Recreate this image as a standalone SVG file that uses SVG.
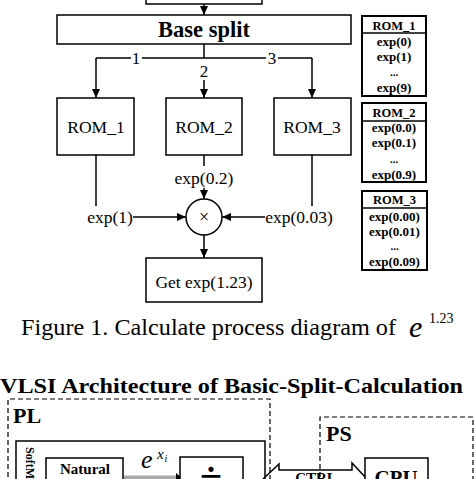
<svg xmlns="http://www.w3.org/2000/svg" width="474" height="479" viewBox="0 0 474 479">
<style>
.box{fill:#fff;stroke:#000;stroke-width:1.5}
.tbl{fill:#fff;stroke:#000;stroke-width:2}
.ln{stroke:#000;stroke-width:1.5;fill:none}
.dash{stroke:#000;stroke-width:1.2;fill:none;stroke-dasharray:5,3}
.t{font-family:"Liberation Serif","Times New Roman",serif;fill:#000}
.b{font-weight:bold}
.m{text-anchor:middle}
</style>
<defs>
<marker id="ah" markerWidth="9" markerHeight="8" refX="9" refY="4" orient="auto" markerUnits="userSpaceOnUse">
<path d="M0,0 L9,4 L0,8 z" fill="#000"/>
</marker>
</defs>
<rect width="474" height="479" fill="#fff"/>

<g id="connectors">
<line class="ln" x1="204" y1="4" x2="204" y2="15" marker-end="url(#ah)"/>
<line class="ln" x1="204" y1="44" x2="204" y2="58"/>
<line class="ln" x1="96" y1="58" x2="131" y2="58"/>
<line class="ln" x1="142" y1="58" x2="266" y2="58"/>
<line class="ln" x1="278" y1="58" x2="312" y2="58"/>
<line class="ln" x1="96" y1="58" x2="96" y2="98" marker-end="url(#ah)"/>
<line class="ln" x1="312" y1="58" x2="312" y2="98" marker-end="url(#ah)"/>
<line class="ln" x1="204" y1="80" x2="204" y2="98" marker-end="url(#ah)"/>
<line class="ln" x1="96" y1="155" x2="96" y2="206"/>
<line class="ln" x1="204" y1="155" x2="204" y2="166"/>
<line class="ln" x1="312" y1="155" x2="312" y2="206"/>
<line class="ln" x1="204" y1="188" x2="204" y2="199" marker-end="url(#ah)"/>
<line class="ln" x1="133" y1="217" x2="186" y2="217" marker-end="url(#ah)"/>
<line class="ln" x1="265" y1="217" x2="222" y2="217" marker-end="url(#ah)"/>
<line class="ln" x1="204" y1="235" x2="204" y2="258" marker-end="url(#ah)"/>
<text class="t m" x="136" y="64" font-size="17">1</text>
<text class="t m" x="204" y="77" font-size="17">2</text>
<text class="t m" x="272" y="64" font-size="17">3</text>
<text class="t m" x="110" y="223" font-size="17.5">exp(1)</text>
<text class="t m" x="204" y="184" font-size="17.5">exp(0.2)</text>
<text class="t m" x="299" y="223" font-size="17.5">exp(0.03)</text>
<rect x="124" y="475.5" width="52" height="5" fill="#aaa"/>
<path d="M176,473 L182,478 L176,483 z" fill="#000"/>
<path class="ln" d="M263,479 L279,464 L279,470 L352,470 L352,463 L366,478"/>
<text class="t b m" x="316" y="483" font-size="15">CTRL</text>
</g>

<g id="input"><rect class="box" x="146" y="-10" width="116" height="14"/></g>
<g id="base-split"><rect class="box" x="57" y="15" width="294" height="29"/>
<text class="t b m" x="204" y="37" font-size="22.5">Base split</text></g>
<g id="rom1"><rect class="box" x="57" y="98" width="77" height="57"/>
<text class="t m" x="96" y="133" font-size="17.5">ROM_1</text></g>
<g id="rom2"><rect class="box" x="166" y="98" width="76" height="57"/>
<text class="t m" x="204" y="133" font-size="17.5">ROM_2</text></g>
<g id="rom3"><rect class="box" x="274" y="98" width="77" height="57"/>
<text class="t m" x="312" y="133" font-size="17.5">ROM_3</text></g>
<g id="multiply"><circle cx="204" cy="217" r="18" fill="#fff" stroke="#000" stroke-width="1.5"/>
<text class="t m" x="204" y="223" font-size="18">×</text></g>
<g id="result"><rect class="box" x="146" y="258" width="116" height="44"/>
<text class="t m" x="204" y="288" font-size="17.5">Get exp(1.23)</text></g>

<g id="table-rom1"><rect class="tbl" x="362" y="16" width="64" height="80"/>
<line class="ln" x1="362" y1="33" x2="426" y2="33"/>
<text class="t b m" x="394" y="30" font-size="12.5">ROM_1</text>
<text class="t b m" x="394" y="46" font-size="13">exp(0)</text>
<text class="t b m" x="394" y="61" font-size="13">exp(1)</text>
<text class="t b m" x="394" y="76" font-size="11">...</text>
<text class="t b m" x="394" y="92" font-size="13">exp(9)</text></g>
<g id="table-rom2"><rect class="tbl" x="362" y="103" width="64" height="79"/>
<line class="ln" x1="362" y1="121" x2="426" y2="121"/>
<text class="t b m" x="394" y="117" font-size="12.5">ROM_2</text>
<text class="t b m" x="394" y="132" font-size="13">exp(0.0)</text>
<text class="t b m" x="394" y="147" font-size="13">exp(0.1)</text>
<text class="t b m" x="394" y="163" font-size="11">...</text>
<text class="t b m" x="394" y="179" font-size="13">exp(0.9)</text></g>
<g id="table-rom3"><rect class="tbl" x="362" y="191" width="65" height="79"/>
<line class="ln" x1="362" y1="208" x2="427" y2="208"/>
<text class="t b m" x="394.5" y="204" font-size="12.5">ROM_3</text>
<text class="t b m" x="394.5" y="221" font-size="13">exp(0.00)</text>
<text class="t b m" x="394.5" y="236" font-size="13">exp(0.01)</text>
<text class="t b m" x="394.5" y="250" font-size="11">...</text>
<text class="t b m" x="394.5" y="266" font-size="13">exp(0.09)</text></g>

<g id="caption">
<text class="t" x="21" y="335" font-size="23.5" textLength="375" lengthAdjust="spacingAndGlyphs">Figure 1. Calculate process diagram of</text>
<text class="t" x="409" y="337" font-size="30" font-style="italic">e</text>
<text class="t" x="429" y="323" font-size="14">1.23</text>
</g>
<g id="heading">
<text class="t b" x="0" y="393" font-size="22" textLength="463" lengthAdjust="spacingAndGlyphs">VLSI Architecture of Basic-Split-Calculation</text>
</g>

<g id="pl"><path class="dash" d="M8,485 L8,399 L270,399 L270,485"/>
<text class="t b" x="13" y="423" font-size="22">PL</text></g>
<g id="ps"><path class="dash" d="M320,485 L320,417 L473,417 L473,485"/>
<text class="t b" x="326" y="441" font-size="22">PS</text></g>
<g id="softmax"><path class="ln" d="M16,485 L16,441 L265,441 L265,485"/>
<text class="t b" transform="translate(26,447) rotate(90)" font-size="12">SoftMax</text></g>
<g id="natural"><rect class="box" x="46" y="458" width="77" height="30"/>
<text class="t b m" x="85" y="474" font-size="15">Natural</text></g>
<g id="exi"><text class="t" x="141" y="468" font-size="26" font-style="italic">e</text>
<text class="t" x="157" y="459" font-size="15" font-style="italic">x</text>
<text class="t" x="164.5" y="462" font-size="10" font-style="italic">i</text></g>
<g id="divide"><rect class="box" x="180" y="457" width="63" height="30"/>
<text class="t b m" x="211" y="490" font-size="40">÷</text></g>
<g id="cpu"><rect class="box" x="365" y="458" width="63" height="30"/>
<text class="t b m" x="396" y="485" font-size="21">CPU</text></g>
</svg>
